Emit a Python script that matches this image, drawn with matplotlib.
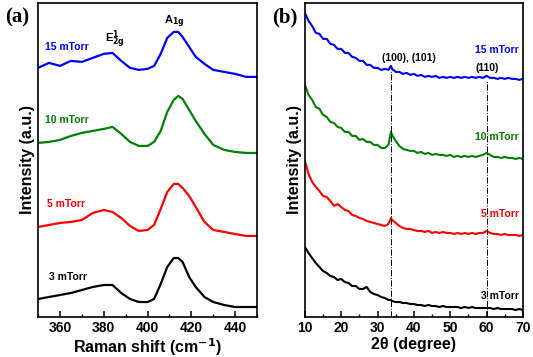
import matplotlib
matplotlib.use('Agg')
import matplotlib.pyplot as plt
from matplotlib.ticker import MultipleLocator

plt.rcParams['font.family'] = ['Liberation Sans', 'DejaVu Sans']
plt.rcParams['font.weight'] = 'bold'
plt.rcParams['axes.labelweight'] = 'bold'
plt.rcParams['mathtext.default'] = 'bf'

# =========================
# 数据: Raman
# =========================
raman_shift = [350, 355, 360, 365, 370, 375, 380, 384, 388, 392, 396, 400, 403,
               406, 409, 412, 414, 416, 419, 422, 426, 430, 435, 440, 445, 450]
raman_15 = [249, 254, 251, 256, 255, 259, 263, 264, 256, 249, 247, 248, 251,
            263, 279, 285, 285, 280, 270, 260, 253, 247, 245, 243, 240, 240]
raman_10 = [174, 175, 177, 181, 184, 186, 188, 190, 183, 175, 171, 171, 175,
            186, 205, 217, 221, 218, 207, 196, 183, 172, 167, 165, 164, 164]
raman_5 = [90, 92, 94, 95, 97, 104, 107, 105, 99, 91, 86, 87, 92,
           108, 125, 133, 133, 129, 121, 110, 95, 87, 85, 83, 81, 81]
raman_3 = [18, 20, 22, 24, 27, 30, 32, 32, 24, 18, 15, 15, 18,
           33, 50, 59, 59, 55, 40, 30, 20, 15, 12, 10, 10, 10]

# =========================
# 数据: XRD
# =========================
two_theta = [10, 11, 12, 13, 14, 15, 16, 17, 18, 19, 20, 21, 22, 23, 24, 25,
             26, 27, 28, 29, 30, 31, 32, 33, 33.7, 34, 35, 36, 37, 38, 39, 40,
             41, 42, 43, 44, 45, 46, 47, 48, 49, 50, 51, 52, 53, 54, 55, 56,
             57, 58, 59, 60, 61, 62, 63, 64, 65, 66, 67, 68, 69, 70]
xrd_15 = [304, 296, 291, 284, 283, 278, 278, 273, 272, 268, 268, 264, 264, 260,
          259, 256, 256, 252, 252, 249, 249, 247, 248, 247, 251, 248, 245, 245,
          243, 244, 242, 243, 241, 242, 240, 241, 240, 241, 239, 240, 239, 240,
          239, 240, 239, 240, 239, 240, 239, 240, 239, 241, 239, 239, 238, 239,
          238, 239, 238, 238, 237, 238]
xrd_10 = [232, 222, 217, 210, 208, 202, 200, 195, 194, 190, 189, 185, 185, 181,
          181, 177, 178, 175, 175, 172, 172, 169, 169, 172, 185, 182, 176, 171,
          168, 167, 166, 166, 164, 165, 163, 164, 162, 163, 162, 162, 161, 162,
          160, 161, 160, 161, 160, 161, 160, 161, 162, 164, 162, 160, 160, 159,
          160, 159, 159, 158, 159, 158]
xrd_5 = [156, 143, 135, 130, 126, 121, 120, 116, 111, 113, 110, 107, 106, 102,
         101, 99, 98, 96, 95, 94, 93, 92, 91, 93, 99, 97, 94, 91,
         89, 88, 88, 87, 86, 86, 85, 86, 84, 85, 84, 85, 84, 84,
         83, 84, 83, 84, 83, 84, 83, 84, 84, 86, 84, 83, 83, 82,
         83, 82, 82, 82, 81, 82]
xrd_3 = [70, 64, 59, 54, 50, 46, 44, 41, 40, 37, 38, 35, 34, 31,
         31, 28, 28, 30, 25, 23, 22, 20, 19, 17, 17, 16, 15, 15,
         14, 14, 13, 13, 12, 12, 11, 12, 11, 11, 10, 11, 10, 10,
         10, 10, 9, 10, 9, 10, 9, 9, 9, 9, 9, 8, 9, 8,
         8, 8, 8, 7, 8, 7]

labels = ['15 mTorr', '10 mTorr', '5 mTorr', '3 mTorr']
colors = ['#0000ff', '#008000', '#ff0000', '#000000']
peak_pos = [33.7, 60]

fig = plt.figure(figsize=(5.33, 3.57), dpi=100)
ax1 = fig.add_axes([0.0713, 0.112, 0.411, 0.880])
ax2 = fig.add_axes([0.572, 0.112, 0.409, 0.880])

# =========================
# (a) Raman
# =========================
for ys, c in zip([raman_15, raman_10, raman_5, raman_3], colors):
    ax1.plot(raman_shift, ys, color=c, linewidth=1.6)

ax1.set_xlim(350, 450)
ax1.set_ylim(0, 314)
ax1.text(353, 270, labels[0], color=colors[0], fontsize=7.5, va='center')
ax1.text(353, 197, labels[1], color=colors[1], fontsize=7.5, va='center')
ax1.text(354, 113, labels[2], color=colors[2], fontsize=7.5, va='center')
ax1.text(355, 40, labels[3], color=colors[3], fontsize=7.5, va='center')
ax1.text(385, 277, r'E$^{1}_{2g}$', fontsize=8, ha='center', va='center')
ax1.text(412, 295, r'A$_{1g}$', fontsize=8, ha='center', va='center')

ax1.set_xlabel('Raman shift (cm$^{-1}$)', fontsize=11.5, labelpad=1)
ax1.set_ylabel('Intensity (a.u.)', fontsize=11.5, labelpad=2)
ax1.xaxis.set_major_locator(MultipleLocator(20))
ax1.xaxis.set_minor_locator(MultipleLocator(10))
ax1.set_yticks([])
ax1.text(-0.093, 0.955, '(a)', transform=ax1.transAxes, fontsize=15,
         family='Liberation Serif', fontweight='bold', ha='center', va='center')

# =========================
# (b) XRD
# =========================
for ys, c in zip([xrd_15, xrd_10, xrd_5, xrd_3], colors):
    ax2.plot(two_theta, ys, color=c, linewidth=1.5)

ax2.vlines(peak_pos[0], 0, 246, colors='black', linestyles='dashdot', linewidth=0.7)
ax2.vlines(peak_pos[1], 0, 237, colors='black', linestyles='dashdot', linewidth=0.7)

ax2.set_xlim(10, 70)
ax2.set_ylim(0, 314)
ax2.text(69, 267, labels[0], color=colors[0], fontsize=7.5, ha='right', va='center')
ax2.text(69, 180, labels[1], color=colors[1], fontsize=7.5, ha='right', va='center')
ax2.text(69, 103, labels[2], color=colors[2], fontsize=7.5, ha='right', va='center')
ax2.text(69, 21, labels[3], color=colors[3], fontsize=7.5, ha='right', va='center')
ax2.text(38.5, 259, '(100), (101)', fontsize=7.5, ha='center', va='center')
ax2.text(60.2, 249, '(110)', fontsize=7.5, ha='center', va='center')

ax2.set_xlabel('2θ (degree)', fontsize=11.5, labelpad=1)
ax2.set_ylabel('Intensity (a.u.)', fontsize=11.5, labelpad=2)
ax2.xaxis.set_major_locator(MultipleLocator(10))
ax2.xaxis.set_minor_locator(MultipleLocator(5))
ax2.set_yticks([])
ax2.text(-0.092, 0.955, '(b)', transform=ax2.transAxes, fontsize=15,
         family='Liberation Serif', fontweight='bold', ha='center', va='center')

for ax in [ax1, ax2]:
    for s in ax.spines.values():
        s.set_linewidth(1.2)
    ax.tick_params(axis='x', which='major', direction='in', length=4, width=1.1,
                   labelsize=10, pad=3)
    ax.tick_params(axis='x', which='minor', direction='in', length=2, width=1)

fig.canvas.draw()
for ax in [ax1, ax2]:
    plt.setp(ax.get_xticklabels(), fontweight='bold')

fig.savefig('out.png', dpi=100)
